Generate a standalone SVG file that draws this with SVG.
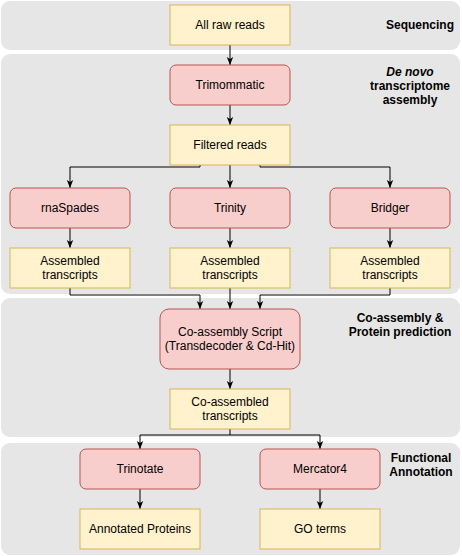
<svg xmlns="http://www.w3.org/2000/svg" width="462" height="556" viewBox="0 0 462 556">
<defs>
<style>
.panel{fill:#E6E6E6;stroke:none}
.y{fill:#FFF2CC;stroke:#D6B656;stroke-width:1}
.r{fill:#F8CECC;stroke:#B85450;stroke-width:1}
.t{font-family:"Liberation Sans",Arial,sans-serif;font-size:12px;fill:#000;text-anchor:middle}
.lb{font-family:"Liberation Sans",Arial,sans-serif;font-size:12px;font-weight:bold;fill:#000;text-anchor:middle}
.c{fill:none;stroke:#000;stroke-width:1;marker-end:url(#arr)}
</style>
<marker id="arr" viewBox="0 0 10 10" refX="10" refY="5" markerWidth="8" markerHeight="8" orient="auto" markerUnits="userSpaceOnUse">
<path d="M0,1 L10,5 L0,9 L2.5,5 z" fill="#000"/>
</marker>
</defs>
<g id="panels">
<rect class="panel" x="1" y="1" width="459" height="49" rx="9"/>
<rect class="panel" x="1" y="54" width="459" height="240" rx="9"/>
<rect class="panel" x="1" y="298" width="459" height="139" rx="9"/>
<rect class="panel" x="1" y="443" width="459" height="112" rx="9"/>
</g>
<g id="labels">
<text class="lb" x="420" y="29">Sequencing</text>
<text class="lb" x="410" y="76"><tspan font-style="italic">De novo</tspan></text>
<text class="lb" x="410" y="90">transcriptome</text>
<text class="lb" x="410" y="104">assembly</text>
<text class="lb" x="400" y="322">Co-assembly &amp;</text>
<text class="lb" x="400" y="336">Protein prediction</text>
<text class="lb" x="421" y="462">Functional</text>
<text class="lb" x="421" y="476">Annotation</text>
</g>
<g id="connectors">
<path class="c" d="M230,45 V65"/>
<path class="c" d="M230,105 V125"/>
<path class="c" d="M200,165 V167 H70 V188"/>
<path class="c" d="M230,165 V188"/>
<path class="c" d="M260,165 V167 H390 V188"/>
<path class="c" d="M70,228 V248"/>
<path class="c" d="M230,228 V248"/>
<path class="c" d="M390,228 V248"/>
<path class="c" d="M70,288 V295 H200 V309"/>
<path class="c" d="M230,288 V309"/>
<path class="c" d="M390,288 V295 H260 V309"/>
<path class="c" d="M230,369 V389"/>
<path class="c" d="M230,429 V435 H140 V449"/>
<path class="c" d="M230,435 H320 V449"/>
<path class="c" d="M140,489 V509"/>
<path class="c" d="M320,489 V509"/>
</g>
<g id="raw"><rect class="y" x="170" y="5" width="120" height="40"/><text class="t" x="230" y="29">All raw reads</text></g>
<g id="trimmomatic"><rect class="r" x="170" y="65" width="120" height="40" rx="6"/><text class="t" x="230" y="89">Trimommatic</text></g>
<g id="filtered"><rect class="y" x="170" y="125" width="120" height="40"/><text class="t" x="230" y="149">Filtered reads</text></g>
<g id="rnaspades"><rect class="r" x="10" y="188" width="120" height="40" rx="6"/><text class="t" x="70" y="212">rnaSpades</text></g>
<g id="trinity"><rect class="r" x="170" y="188" width="120" height="40" rx="6"/><text class="t" x="230" y="212">Trinity</text></g>
<g id="bridger"><rect class="r" x="330" y="188" width="120" height="40" rx="6"/><text class="t" x="390" y="212">Bridger</text></g>
<g id="asm1"><rect class="y" x="10" y="248" width="120" height="40"/><text class="t" x="70" y="265">Assembled</text><text class="t" x="70" y="279">transcripts</text></g>
<g id="asm2"><rect class="y" x="170" y="248" width="120" height="40"/><text class="t" x="230" y="265">Assembled</text><text class="t" x="230" y="279">transcripts</text></g>
<g id="asm3"><rect class="y" x="330" y="248" width="120" height="40"/><text class="t" x="390" y="265">Assembled</text><text class="t" x="390" y="279">transcripts</text></g>
<g id="coscript"><rect class="r" x="160" y="309" width="140" height="60" rx="9"/><text class="t" x="230" y="336">Co-assembly Script</text><text class="t" x="230" y="350">(Transdecoder &amp; Cd-Hit)</text></g>
<g id="coassembled"><rect class="y" x="170" y="389" width="120" height="40"/><text class="t" x="230" y="406">Co-assembled</text><text class="t" x="230" y="420">transcripts</text></g>
<g id="trinotate"><rect class="r" x="80" y="449" width="120" height="40" rx="6"/><text class="t" x="140" y="473">Trinotate</text></g>
<g id="mercator"><rect class="r" x="260" y="449" width="120" height="40" rx="6"/><text class="t" x="320" y="473">Mercator4</text></g>
<g id="annotated"><rect class="y" x="80" y="509" width="120" height="40"/><text class="t" x="140" y="533">Annotated Proteins</text></g>
<g id="goterms"><rect class="y" x="260" y="509" width="120" height="40"/><text class="t" x="320" y="533">GO terms</text></g>
</svg>
